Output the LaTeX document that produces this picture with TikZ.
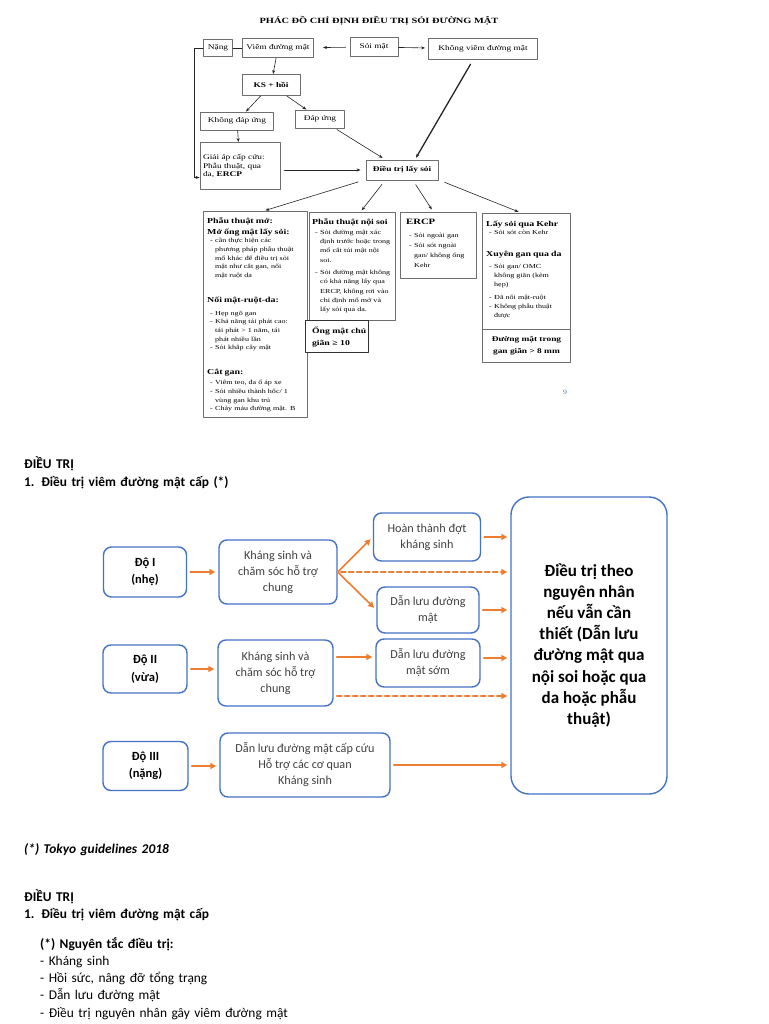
\documentclass[tikz,border=0pt]{standalone}
\usepackage{fontspec}
\setmainfont{Carlito}
\newfontfamily\slidefont[FakeStretch=1.3]{Liberation Serif}
\usetikzlibrary{arrows.meta,positioning}
\definecolor{flowBlue}{HTML}{4472C4}
\definecolor{flowOrange}{HTML}{ED7D31}
\definecolor{flowInk}{HTML}{404040}
\definecolor{slideLine}{HTML}{6E6E6E}
\definecolor{pageBlue}{HTML}{4F81BD}
\newcommand\bl{\makebox[8pt][l]{\hspace*{3pt}-}}
\newcommand\cl{\hspace*{8pt}}

\begin{document}
\begin{tikzpicture}[x=1pt,y=-1pt,>=Stealth,line cap=round,line join=round]
\useasboundingbox[fill=white] (0,0) rectangle (768,1024);
\tikzset{sbox/.style={draw=slideLine,fill=white,line width=0.9pt,inner sep=1pt,font=\slidefont\fontsize{7.2}{8.5}\selectfont},
  lbox/.style={draw=slideLine,fill=white,line width=0.9pt,inner sep=0pt,anchor=north west},
  ltext/.style={anchor=base west,inner sep=0pt,align=left,font=\slidefont\fontsize{6.2}{8.6}\selectfont},
  sarr/.style={draw=black!85,line width=0.6pt,-{Stealth[length=4pt,width=3pt]}},
  fbox/.style={draw=flowBlue,fill=white,line width=1.4pt,rounded corners=8pt,align=center,text=flowInk,font=\fontsize{12.2}{16}\selectfont},
  gbox/.style={fbox,text=black,font=\bfseries\fontsize{12.5}{17.5}\selectfont},
  flow/.style={draw=flowOrange,line width=1.6pt,-{Triangle[length=6pt,width=6pt]},shorten >=3pt,shorten <=3pt},
  flowdash/.style={flow,dash pattern=on 5pt off 3pt},
  heading/.style={anchor=base west,inner sep=0pt,align=left,text width=400pt}}

% slide: phac do dieu tri soi duong mat
\node[font=\slidefont\bfseries\fontsize{8}{10}\selectfont] (title) at (379,21) {PHÁC ĐỒ CHỈ ĐỊNH ĐIỀU TRỊ SỎI ĐƯỜNG MẬT};
\node[sbox,minimum width=29pt,minimum height=17pt] (nang) at (218,48) {Nặng};
\node[sbox,minimum width=71pt,minimum height=19pt] (viem) at (278,48) {Viêm đường mật};
\node[sbox,minimum width=48pt,minimum height=19pt] (soi) at (374,47) {Sỏi mật};
\node[sbox,minimum width=109pt,minimum height=21pt] (khong) at (483,49) {Không viêm đường mật};
\node[sbox,minimum width=58pt,minimum height=21pt,font=\slidefont\bfseries\fontsize{7.2}{8.5}\selectfont] (ks) at (271,85) {KS + hồi};
\node[sbox,minimum width=73pt,minimum height=18pt] (kdu) at (237,121) {Không đáp ứng};
\node[sbox,minimum width=49pt,minimum height=18pt] (du) at (320,119) {Đáp ứng};
\node[sbox,minimum width=80pt,minimum height=47pt,text width=74pt,align=left] (giai) at (240,166) {Giải áp cấp cứu:\\Phẫu thuật, qua\\da, \textbf{ERCP}};
\node[sbox,minimum width=72pt,minimum height=20pt,font=\slidefont\bfseries\fontsize{7.2}{8.5}\selectfont] (dt) at (402,170) {Điều trị lấy sỏi};

\draw[black!85,line width=0.6pt] (nang) -- (viem);
\draw[sarr,shorten >=9pt,shorten <=4pt] (soi) -- (viem);
\draw[sarr,shorten >=3pt] (soi) -- (khong);
\draw[sarr] (nang.west) -- ++(-9,0) |- ([yshift=-11.5pt]giai.west);
\draw[sarr] (viem) -- (ks);
\draw[sarr] (ks) -- (kdu);
\draw[sarr] (ks) -- (du);
\draw[sarr] (kdu) -- (giai);
\draw[sarr,shorten <=4pt,shorten >=5pt] (giai.east |- dt.west) -- (dt.west);
\draw[sarr,shorten <=2pt,shorten >=3pt] (du) -- (dt);
\draw[sarr,line width=1.3pt,shorten <=5pt,shorten >=2pt] ([xshift=-10pt]khong.south) -- ([xshift=13pt]dt.north);

% cac nhanh dieu tri lay soi
\node[lbox,minimum width=104pt,minimum height=206pt] (mo) at (203,211) {};
\node[lbox,minimum width=86pt,minimum height=108pt] (noisoi) at (309,212) {};
\node[lbox,minimum width=76pt,minimum height=66pt] (ercp) at (400,212) {};
\node[lbox,minimum width=88pt,minimum height=116pt] (kehr) at (482,213) {};
\node[lbox,minimum width=63pt,minimum height=32pt,line width=1.2pt,draw=black!80,align=left,font=\slidefont\bfseries\fontsize{7.5}{12}\selectfont] (omc) at (305,320) {\hspace*{4pt}Ống mật chủ\\\hspace*{4pt}giãn ≥ 10\hspace*{8pt}};
\node[lbox,minimum width=88pt,minimum height=33pt,align=center,font=\slidefont\bfseries\fontsize{7.2}{12}\selectfont] (dmtg) at (482,329) {Đường mật trong\\gan giãn > 8 mm};

\draw[sarr,shorten <=5pt,shorten >=2pt] ([xshift=-39pt]dt.south) -- ([xshift=8pt]mo.north);
\draw[sarr,shorten <=5pt,shorten >=2pt] ([xshift=-17pt]dt.south) -- ([xshift=8pt]noisoi.north);
\draw[sarr,shorten <=5pt,shorten >=3pt] ([xshift=11pt]dt.south) -- ([xshift=-5pt]ercp.north);
\draw[sarr,shorten <=5pt,shorten >=3pt] ([xshift=38pt]dt.south) -- ([xshift=-5pt]kehr.north);

\node[ltext,text width=100pt] (motxt) at (207,224) {%
{\bfseries\fontsize{7.6}{8}\selectfont Phẫu thuật mở:}\\[1.4pt]
{\bfseries\fontsize{7.6}{8}\selectfont Mở ống mật lấy sỏi:}\\[0.4pt]
\bl cần thực hiện các\\
\cl phương pháp phẫu thuật\\
\cl mổ khác để điều trị sỏi\\
\cl mật như cắt gan, nối\\
\cl mật ruột da\\[16.4pt]
{\bfseries\fontsize{7.6}{8}\selectfont Nối mật-ruột-da:}\\[4.4pt]
\bl Hẹp ngõ gan\\
\bl Khả năng tái phát cao:\\
\cl tái phát > 1 năm, tái\\
\cl phát nhiều lần\\
\bl Sỏi khắp cây mật\\[16.4pt]
{\bfseries\fontsize{7.6}{8}\selectfont Cắt gan:}\\[1.4pt]
\bl Viêm teo, đa ổ áp xe\\
\bl Sỏi nhiều thành hốc/ 1\\
\cl vùng gan khu trú\\
\bl Chảy máu đường mật. B};
\node[ltext,text width=84pt,font=\slidefont\fontsize{6.2}{9.3}\selectfont] (noisoitxt) at (312,225) {%
{\bfseries\fontsize{7.6}{8}\selectfont Phẫu thuật nội soi}\\
\bl Sỏi đường mật xác\\
\cl định trước hoặc trong\\
\cl mổ cắt túi mật nội\\
\cl soi.\\[3pt]
\bl Sỏi đường mật không\\
\cl có khả năng lấy qua\\
\cl ERCP, không rơi vào\\
\cl chỉ định mổ mở và\\
\cl lấy sỏi qua da.};
\node[ltext,text width=72pt,font=\slidefont\fontsize{6.2}{10}\selectfont] (ercptxt) at (406,225) {%
{\bfseries\fontsize{8.2}{8}\selectfont ERCP}\\[3pt]
\bl Sỏi ngoài gan\\
\bl Sỏi sót ngoài\\
\cl gan/ không ống\\
\cl Kehr};
\node[ltext,text width=84pt,font=\slidefont\fontsize{6.2}{9}\selectfont] (kehrtxt) at (486,226) {%
{\bfseries\fontsize{7.6}{8}\selectfont Lấy sỏi qua Kehr}\\
\bl Sỏi sót còn Kehr\\[12pt]
{\bfseries\fontsize{7.6}{8}\selectfont Xuyên gan qua da}\\[3pt]
\bl Sỏi gan/ OMC\\
\cl không giãn (kèm\\
\cl hẹp)\\[4pt]
\bl Đã nối mật-ruột\\
\bl Không phẫu thuật\\
\cl được};
\node[text=pageBlue,font=\slidefont\fontsize{6.5}{7}\selectfont] (page) at (565,392) {9};

% dieu tri viem duong mat cap
\node[heading,font=\bfseries\fontsize{13.4}{18}\selectfont] (head1) at (24,468) {ĐIỀU TRỊ\\1. Điều trị viêm đường mật cấp (*)};

\node[gbox,minimum width=83pt,minimum height=50pt] (do1) at (145,572) {Độ I\\(nhẹ)};
\node[fbox,minimum width=118pt,minimum height=64pt] (ks1) at (278,572) {Kháng sinh và\\chăm sóc hỗ trợ\\chung};
\node[fbox,minimum width=107pt,minimum height=48pt] (hoan) at (427,537) {Hoàn thành đợt\\kháng sinh};
\node[fbox,minimum width=102pt,minimum height=46pt] (dl1) at (428,610) {Dẫn lưu đường\\mật};
\node[fbox,minimum width=156pt,minimum height=297pt,rounded corners=18pt,text=black,font=\bfseries\fontsize{17}{21.2}\selectfont] (bigbox) at (589,645.5) {Điều trị theo\\nguyên nhân\\nếu vẫn cần\\thiết (Dẫn lưu\\đường mật qua\\nội soi hoặc qua\\da hoặc phẫu\\thuật)};
\node[gbox,minimum width=84pt,minimum height=48pt] (do2) at (145,669) {Độ II\\(vừa)};
\node[fbox,minimum width=115pt,minimum height=66pt] (ks2) at (275.5,673) {Kháng sinh và\\chăm sóc hỗ trợ\\chung};
\node[fbox,minimum width=104pt,minimum height=48pt] (dls) at (428,663) {Dẫn lưu đường\\mật sớm};
\node[gbox,minimum width=85pt,minimum height=49pt] (do3) at (145.5,766) {Độ III\\(nặng)};
\node[fbox,minimum width=170pt,minimum height=64pt] (dlcc) at (305,765) {Dẫn lưu đường mật cấp cứu\\Hỗ trợ các cơ quan\\Kháng sinh};

\draw[flow] (do1) -- (ks1);
\draw[flow,shorten <=1pt] (ks1.east) -- (hoan.west);
\draw[flow,shorten <=1pt] (ks1.east) -- (dl1.west);
\draw[flowdash] (ks1.east) -- (ks1.east -| bigbox.west);
\draw[flow] (hoan.east) -- (hoan.east -| bigbox.west);
\draw[flow] (dl1.east) -- (dl1.east -| bigbox.west);
\draw[flow] (do2.east) -- (do2.east -| ks2.west);
\draw[flow] ([yshift=16pt]ks2.east) -- ([yshift=16pt]ks2.east -| dls.west);
\draw[flow] ([yshift=5pt]dls.east) -- ([yshift=5pt]dls.east -| bigbox.west);
\draw[flowdash] ([yshift=-23pt]ks2.east) -- ([yshift=-23pt]ks2.east -| bigbox.west);
\draw[flow] (do3.east) -- (do3.east -| dlcc.west);
\draw[flow] (dlcc.east) -- (dlcc.east -| bigbox.west);

\node[heading,font=\bfseries\itshape\fontsize{13.4}{18}\selectfont] (tokyo) at (24,853) {(*) Tokyo guidelines 2018};
\node[heading,font=\bfseries\fontsize{13.4}{17.3}\selectfont] (head2) at (24,901.5) {ĐIỀU TRỊ\\1. Điều trị viêm đường mật cấp};
\node[heading,font=\fontsize{13.4}{17.3}\selectfont] (rules) at (40,948) {\textbf{(*) Nguyên tắc điều trị:}\\- Kháng sinh\\- Hồi sức, nâng đỡ tổng trạng\\- Dẫn lưu đường mật\\- Điều trị nguyên nhân gây viêm đường mật};
\end{tikzpicture}
\end{document}
